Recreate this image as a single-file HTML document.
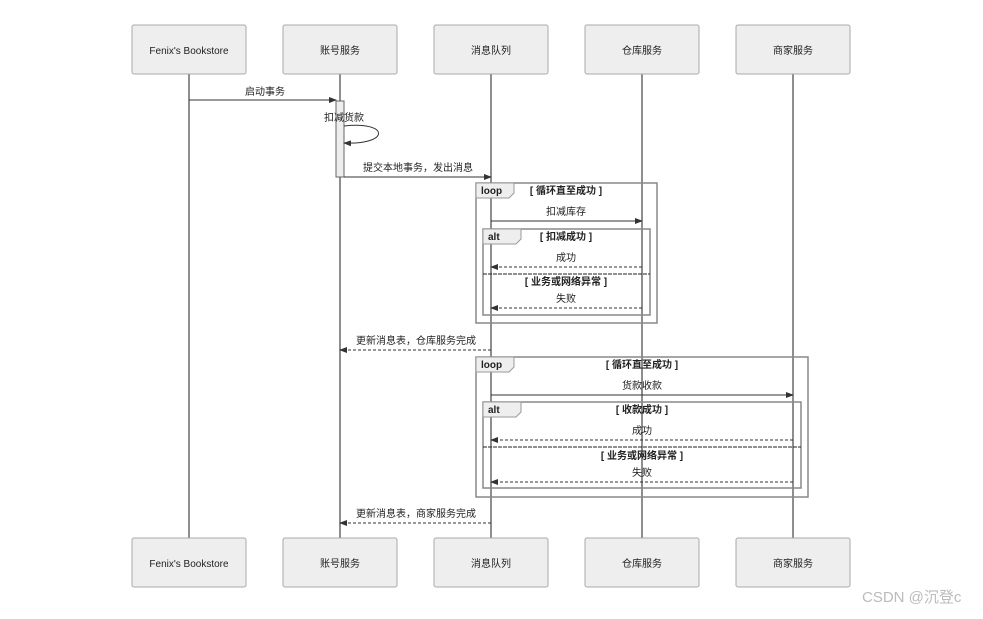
<!DOCTYPE html>
<html><head><meta charset="utf-8"><style>
body{margin:0;background:#fff;width:983px;height:614px;overflow:hidden}
text{font-family:"Liberation Sans","Noto Sans CJK SC",sans-serif;font-size:10px;fill:#222}
.c{text-anchor:middle}
</style></head><body>
<svg width="983" height="614" viewBox="0 0 983 614" xmlns="http://www.w3.org/2000/svg">
<defs><marker id="a" markerWidth="8" markerHeight="6" refX="7" refY="3" orient="auto" markerUnits="userSpaceOnUse"><path d="M0,0L8,3L0,6z" fill="#333"/></marker></defs>
<g stroke="#444" stroke-width="1.2">
<line x1="189" y1="74" x2="189" y2="538"/><line x1="340" y1="74" x2="340" y2="538"/><line x1="491" y1="74" x2="491" y2="538"/><line x1="642" y1="74" x2="642" y2="538"/><line x1="793" y1="74" x2="793" y2="538"/>
</g>
<g fill="#eee" stroke="#aaa" stroke-width="1">
<rect x="132" y="25" width="114" height="49" rx="2"/><rect x="283" y="25" width="114" height="49" rx="2"/><rect x="434" y="25" width="114" height="49" rx="2"/><rect x="585" y="25" width="114" height="49" rx="2"/><rect x="736" y="25" width="114" height="49" rx="2"/>
<rect x="132" y="538" width="114" height="49" rx="2"/><rect x="283" y="538" width="114" height="49" rx="2"/><rect x="434" y="538" width="114" height="49" rx="2"/><rect x="585" y="538" width="114" height="49" rx="2"/><rect x="736" y="538" width="114" height="49" rx="2"/>
</g>
<g class="c">
<text x="189" y="54" class="c">Fenix's Bookstore</text><text x="340" y="54" class="c">账号服务</text><text x="491" y="54" class="c">消息队列</text><text x="642" y="54" class="c">仓库服务</text><text x="793" y="54" class="c">商家服务</text>
<text x="189" y="567" class="c">Fenix's Bookstore</text><text x="340" y="567" class="c">账号服务</text><text x="491" y="567" class="c">消息队列</text><text x="642" y="567" class="c">仓库服务</text><text x="793" y="567" class="c">商家服务</text>
</g>
<rect x="336" y="101" width="8" height="76" fill="#eee" stroke="#666"/>
<g stroke="#333" stroke-width="1" fill="none">
<line x1="189" y1="100" x2="336" y2="100" marker-end="url(#a)"/>
<path d="M344,126 C390,121 390,145 344,143" marker-end="url(#a)"/>
<line x1="344" y1="177" x2="491" y2="177" marker-end="url(#a)"/>
<line x1="491" y1="221" x2="642" y2="221" marker-end="url(#a)"/>
<line x1="642" y1="267" x2="491" y2="267" stroke-dasharray="3,2" marker-end="url(#a)"/>
<line x1="642" y1="308" x2="491" y2="308" stroke-dasharray="3,2" marker-end="url(#a)"/>
<line x1="491" y1="350" x2="340" y2="350" stroke-dasharray="3,2" marker-end="url(#a)"/>
<line x1="491" y1="395" x2="793" y2="395" marker-end="url(#a)"/>
<line x1="793" y1="440" x2="491" y2="440" stroke-dasharray="3,2" marker-end="url(#a)"/>
<line x1="793" y1="482" x2="491" y2="482" stroke-dasharray="3,2" marker-end="url(#a)"/>
<line x1="491" y1="523" x2="340" y2="523" stroke-dasharray="3,2" marker-end="url(#a)"/>
</g>
<g fill="none" stroke="#888" stroke-width="1.5">
<rect x="476" y="183" width="181" height="140"/><rect x="483" y="229" width="167" height="86"/>
<rect x="476" y="357" width="332" height="140"/><rect x="483" y="402" width="318" height="86"/>
</g>
<line x1="483" y1="274" x2="650" y2="274" stroke="#222" stroke-dasharray="4,1"/>
<line x1="483" y1="447" x2="801" y2="447" stroke="#222" stroke-dasharray="4,1"/>
<g fill="#eee" stroke="#999">
<path d="M476,183H514V193L509,198H476z"/><path d="M483,229H521V239L516,244H483z"/>
<path d="M476,357H514V367L509,372H476z"/><path d="M483,402H521V412L516,417H483z"/>
</g>
<g>
<text x="481" y="194" style="font-weight:bold">loop</text><text x="488" y="240" style="font-weight:bold">alt</text>
<text x="481" y="368" style="font-weight:bold">loop</text><text x="488" y="413" style="font-weight:bold">alt</text>
<text x="566" y="194" class="c" style="font-weight:bold">[ 循环直至成功 ]</text>
<text x="566" y="240" class="c" style="font-weight:bold">[ 扣减成功 ]</text>
<text x="566" y="285" class="c" style="font-weight:bold">[ 业务或网络异常 ]</text>
<text x="642" y="368" class="c" style="font-weight:bold">[ 循环直至成功 ]</text>
<text x="642" y="413" class="c" style="font-weight:bold">[ 收款成功 ]</text>
<text x="642" y="459" class="c" style="font-weight:bold">[ 业务或网络异常 ]</text>
</g>
<text x="265" y="95" class="c">启动事务</text>
<text x="344" y="121" class="c">扣减货款</text>
<text x="418" y="171" class="c">提交本地事务，发出消息</text>
<text x="566" y="215" class="c">扣减库存</text>
<text x="566" y="261" class="c">成功</text>
<text x="566" y="302" class="c">失败</text>
<text x="416" y="344" class="c">更新消息表，仓库服务完成</text>
<text x="642" y="389" class="c">货款收款</text>
<text x="642" y="434" class="c">成功</text>
<text x="642" y="476" class="c">失败</text>
<text x="416" y="517" class="c">更新消息表，商家服务完成</text>
<text x="862" y="602" style="font-size:15px;fill:#bbb">CSDN @沉登c</text>
</svg>
</body></html>
